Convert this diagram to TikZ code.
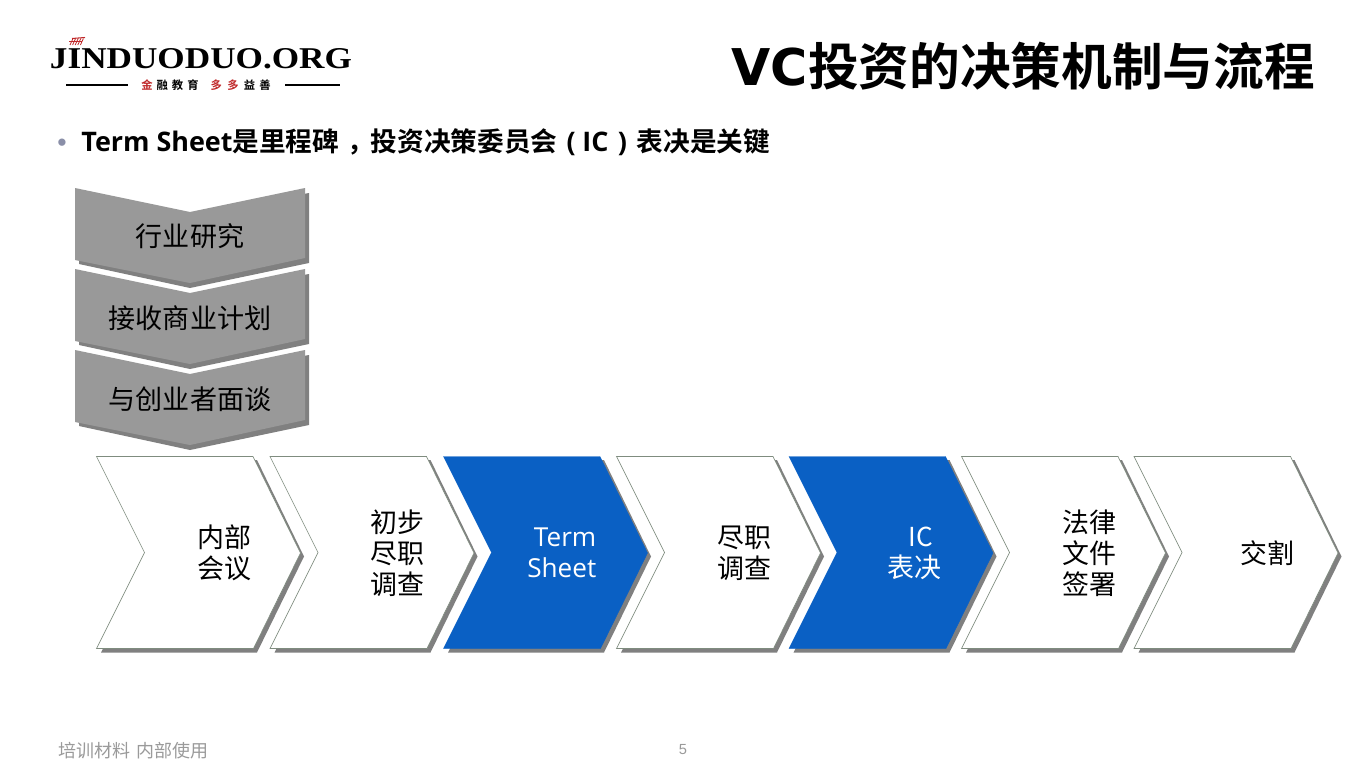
\documentclass[tikz,border=0pt]{standalone}
\usepackage{fontspec}
\setmainfont{Open Sans}
\newfontfamily\cjk{Noto Sans CJK SC}
\newfontfamily\cjkb{Noto Sans CJK SC Bold}
\newfontfamily\opb{Open Sans Bold}
\newfontfamily\vcf{DejaVu Sans Bold}
\newfontfamily\logof{Liberation Serif Bold}
\newfontfamily\pagef{Liberation Sans}
\definecolor{barblue}{HTML}{0A60C4}
\definecolor{shadowgray}{HTML}{808080}
\definecolor{slategray}{HTML}{999999}
\definecolor{edgegray}{HTML}{7F8C7F}
\definecolor{bulletgray}{HTML}{8A8FA8}
\definecolor{footgray}{HTML}{9A9A9A}
\definecolor{logored}{HTML}{C0282A}
\tikzset{
  chevwhite/.style={fill=white,draw=edgegray,line width=0.5pt,line join=miter},
  chevblue/.style={fill=barblue,draw=barblue,line width=0.3pt},
  chevshade/.style={fill=shadowgray,draw=none},
  vchev/.style={fill=slategray,draw=none},
  steptext/.style={font=\cjk\fontsize{20.2}{23.4}\selectfont,align=center,inner sep=0pt,text=black},
  vtext/.style={font=\cjk\fontsize{20.3}{24}\selectfont,inner sep=0pt,text=black},
}
% horizontal chevron: #1 = style, #2 = left x
\newcommand{\hchev}[2]{%
  \fill[chevshade] (#2+4.5,460.5) -- (#2+160.5,460) -- (#2+207.5,556.5) -- (#2+160.5,652.5) -- (#2+4.5,652.5) -- (#2+53,556) -- cycle;
  \path[#1] (#2,456.5) -- (#2+156.5,456.5) -- (#2+204,553) -- (#2+157,648.5) -- (#2,648.5) -- (#2+48,552.5) -- cycle;
}
% vertical chevron: #1 = top y
\newcommand{\vchevron}[1]{%
  \fill[chevshade] (79,#1+5) -- (190,#1+28) -- (309,#1+5) -- (309,#1+75) -- (190,#1+100) -- (79,#1+76) -- cycle;
  \fill[vchev] (75,#1) -- (190,#1+24) -- (305,#1) -- (305,#1+70) -- (190,#1+95) -- (75,#1+72) -- cycle;
}
\begin{document}
\begin{tikzpicture}[x=0.75pt,y=-0.75pt]
\useasboundingbox (0,0) rectangle (1365,767);
\fill[white] (0,0) rectangle (1365,767);
% logo
\node[inner sep=0pt] (logotext) at (201,59) {\resizebox{226.5pt}{15pt}{\logof JINDUODUO.ORG}};
\foreach \i in {0,1,2,3,4}{
  \draw[logored,line width=0.6pt] (70+\i*2.6,45) -- (73+\i*2.6,38.5);
}
\draw[logored,line width=0.8pt] (72,38.5) -- (85,37.5);
\draw[logored,line width=0.6pt] (69,41.5) -- (82,41.5);
\coordinate (la) at (66,85); \coordinate (lb) at (128,85);
\coordinate (lc) at (285,85); \coordinate (ld) at (340,85);
\draw[black,line width=0.8pt] (la) -- (lb);
\draw[black,line width=0.8pt] (lc) -- (ld);
\node[inner sep=0pt,font=\cjkb\fontsize{8.5}{9}\selectfont] (logosub) at (206,85)
  {\textcolor{logored}{金}\hspace{3pt}融\hspace{3pt}教\hspace{3pt}育\hspace{9pt}\textcolor{logored}{多}\hspace{4pt}\textcolor{logored}{多}\hspace{4pt}益\hspace{3pt}善};
% title
\node[anchor=east,inner sep=0pt] (title) at (1315,66)
  {\vcf\fontsize{38}{44}\selectfont VC{\cjkb 投资的决策机制与流程}};
% bullet line
\node[inner sep=0pt,text=bulletgray,font=\pagef\fontsize{20}{22}\selectfont] (bullet) at (62,145) {•};
\node[anchor=west,inner sep=0pt] (headline) at (81,142)
  {\opb\fontsize{20.2}{24}\selectfont Term Sheet{\cjkb\fontsize{20}{24}\selectfont 是里程碑\hspace{6pt}，\hspace{-2.25pt}投资决策委员会}\hspace{6.75pt}(\hspace{5pt}IC\hspace{7pt})\hspace{7.5pt}{\cjkb\fontsize{20}{24}\selectfont 表决是关键}};
% vertical chevrons
\vchevron{350}
\vchevron{269}
\vchevron{188}
\node[vtext] (v1) at (190,236) {行业研究};
\node[vtext] (v2) at (190,318) {接收商业计划};
\node[vtext] (v3) at (190,399) {与创业者面谈};
% horizontal chevrons
\hchev{chevwhite}{96.5}
\hchev{chevwhite}{270}
\hchev{chevblue}{443.5}
\hchev{chevwhite}{616.5}
\hchev{chevblue}{789}
\hchev{chevwhite}{961.5}
\hchev{chevwhite}{1134}
\node[steptext] (s1) at (224,553) {内部\\会议};
\node[steptext] (s2) at (397,553) {初步\\尽职\\调查};
\node[steptext,text=white,font=\fontsize{19.6}{23.4}\selectfont,align=right,anchor=east] (s3) at (596.5,553) {Term\\Sheet};
\node[steptext] (s4) at (744,553) {尽职\\调查};
\node[steptext,text=white,align=right,anchor=east] (s5) at (942,553) {\fontsize{19.6}{23.4}\selectfont IC\hspace*{6.75pt}\\表决};
\node[steptext] (s6) at (1089,553) {法律\\文件\\签署};
\node[steptext] (s7) at (1267,553) {交割};
% footer
\node[anchor=west,inner sep=0pt,text=footgray,font=\cjk\fontsize{13.5}{15}\selectfont] (foot) at (58,751) {培训材料\hspace{5pt}内部使用};
\node[inner sep=0pt,text=footgray,font=\pagef\fontsize{11}{13}\selectfont] (pagenum) at (683,750) {5};
\end{tikzpicture}
\end{document}
